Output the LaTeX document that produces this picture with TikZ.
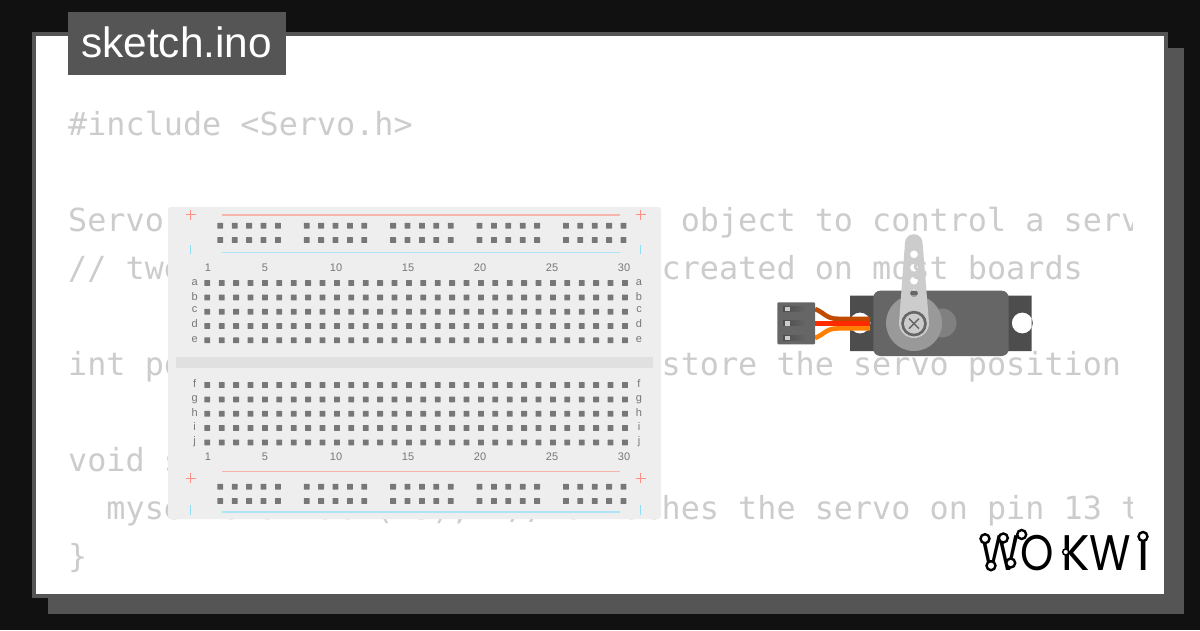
\documentclass[tikz,border=0pt]{standalone}
\usepackage{fontspec}
\setmainfont{Liberation Sans}
\setmonofont{DejaVu Sans Mono}
\newfontfamily\logofont{Poppins}
\definecolor{pageDark}{HTML}{111111}
\definecolor{frameGrey}{HTML}{555555}
\definecolor{codeGrey}{HTML}{CCCCCC}
\definecolor{boardGrey}{HTML}{EEEEEE}
\definecolor{gapGrey}{HTML}{E0E0E0}
\definecolor{holeGrey}{HTML}{777777}
\definecolor{labelGrey}{HTML}{777777}
\definecolor{railRed}{HTML}{F5B5AD}
\definecolor{railBlue}{HTML}{ADE5F7}
\definecolor{signRed}{HTML}{FF8F85}
\definecolor{signBlue}{HTML}{8FDDF5}
\definecolor{bracketGrey}{HTML}{4D4D4D}
\definecolor{bodyGrey}{HTML}{666666}
\definecolor{lumpGrey}{HTML}{808080}
\definecolor{gearGrey}{HTML}{999999}
\definecolor{hornGrey}{HTML}{CCCCCC}
\definecolor{wireBrown}{HTML}{BF4A00}
\definecolor{wireRed}{HTML}{FF2A00}
\definecolor{wireOrange}{HTML}{FF8000}
\tikzset{
  codeline/.style={anchor=base west,inner sep=0pt,text=codeGrey,font=\ttfamily\fontsize{31.8}{32}\selectfont},
  numlabel/.style={anchor=base,inner sep=0pt,text=labelGrey,font=\fontsize{11}{11}\selectfont},
  rowlabel/.style={anchor=base,inner sep=0pt,text=labelGrey,font=\fontsize{11}{11}\selectfont},
  pinhole/.style={fill=holeGrey,minimum size=5.8pt,inner sep=0pt,shape=rectangle,rounded corners=0.4pt},
  logoring/.style={draw=black,fill=white,line width=2.4pt,shape=circle,inner sep=0pt,minimum size=9pt}
}
\begin{document}
\begin{tikzpicture}[x=1pt,y=-1pt]
  \useasboundingbox (0,0) rectangle (1200,630);
  \fill[pageDark] (0,0) rectangle (1200,630);
  \fill[frameGrey] (48,48) rectangle (1184,614);
  \fill[frameGrey] (32,32) rectangle (1168,598);
  \fill[white] (36,36) rectangle (1164,594);
  \fill[frameGrey] (68,12) rectangle (286,75);
  \node[anchor=base west,inner sep=0pt,text=white,font=\fontsize{42.4}{42.4}\selectfont] (sketchTitle) at (81,57) {sketch.ino};

  \begin{scope}
    \clip (60,90) rectangle (1132,590);
    \node[codeline] (codeInclude) at (68,135) {\#include <Servo.h>};
    \node[codeline] (codeServo) at (68,231) {Servo myservo;~~// create servo object to control a serv};
    \node[codeline] (codeTwelve) at (68,279) {// twelve servo objects can be created on most boards};
    \node[codeline] (codePos) at (68,375) {int pos = 0;~~~~// variable to store the servo position};
    \node[codeline] (codeSetup) at (68,471) {void setup() \{};
    \node[codeline] (codeAttach) at (68,519) {~~myservo.attach(13);~~// attaches the servo on pin 13 t};
    \node[codeline] (codeClose) at (68,567) {\}};
  \end{scope}

  \fill[boardGrey,rounded corners=3pt] (168,207) rectangle (661,519);
  \fill[gapGrey] (176,357) rectangle (653,368);
  \foreach \railY in {225.7,240,486.7,501}
    \foreach \groupX in {220.3,306.7,393.1,479.5,565.9}
      \foreach \holeN in {0,...,4}
        \node[pinhole] at (\groupX+14.4*\holeN,\railY) {};
  \foreach \rowY in {283,297.4,311.7,326,340.3,385,399.4,413.7,428,442.4}
    \foreach \holeN in {0,...,29}
      \node[pinhole] at (207.3+14.4*\holeN,\rowY) {};
  \draw[railRed,line width=1.3pt] (222,215) -- (619.5,215);
  \draw[railBlue,line width=1.3pt] (222,252.3) -- (619.5,252.3);
  \draw[railRed,line width=1.3pt] (222,471.5) -- (619.5,471.5);
  \draw[railBlue,line width=1.3pt] (222,512) -- (619.5,512);
  \foreach \signX in {190.5,640.7} {
    \foreach \signY in {214.7,478.3}
      \draw[signRed,line width=0.8pt] (\signX-5,\signY) -- (\signX+5,\signY) (\signX,\signY-5) -- (\signX,\signY+5);
    \foreach \signY in {249.5,510}
      \draw[signBlue,line width=1pt] (\signX,\signY-4.8) -- (\signX,\signY+4.8);
  }
  \foreach \numX/\numT in {208/1,265/5,336/10,408/15,480/20,552/25,624/30} {
    \node[numlabel] at (\numX,271.5) {\numT};
    \node[numlabel] at (\numX,460.5) {\numT};
  }
  \foreach \rowX in {194.7,639} {
    \node[rowlabel] at (\rowX,285.5) {a};
    \node[rowlabel] at (\rowX,300) {b};
    \node[rowlabel] at (\rowX,312.5) {c};
    \node[rowlabel] at (\rowX,327.5) {d};
    \node[rowlabel] at (\rowX,342) {e};
    \node[rowlabel] at (\rowX,387) {f};
    \node[rowlabel] at (\rowX,401.5) {g};
    \node[rowlabel] at (\rowX,416.5) {h};
    \node[rowlabel] at (\rowX,430) {i};
    \node[rowlabel] at (\rowX,444.5) {j};
  }

  \fill[bracketGrey,even odd rule] (850,295.7) rectangle (1031.7,351) (860,323) circle[radius=10.5] (1022.3,323) circle[radius=10.5];
  \fill[bodyGrey,rounded corners=7pt] (873.3,290.7) rectangle (1008.7,356);
  \fill[lumpGrey] (942,323) circle[radius=14.5];
  \fill[gearGrey] (914,323) circle[radius=28];
  \fill[hornGrey,even odd rule] (905,243) arc[start angle=180,end angle=360,radius=8.8] -- (929,323) arc[start angle=0,end angle=180,radius=15] -- cycle
    (914,254.3) circle[radius=4] (914,267.7) circle[radius=4] (914,280.7) circle[radius=4] (914,293.3) circle[radius=4];
  \fill[bodyGrey] (914,323.6) circle[radius=12.8];
  \fill[hornGrey] (914,323.6) circle[radius=10];
  \draw[bodyGrey,line width=1.5pt] (909,318.6) -- (919,328.6) (919,318.6) -- (909,328.6);

  \draw[wireBrown,line width=4.6pt] (815,309) .. controls (825,313) and (826,318.8) .. (838,318.8) -- (870,318.8);
  \draw[wireOrange,line width=4.6pt] (815,338) .. controls (825,334) and (826,328.4) .. (838,328.4) -- (870,328.4);
  \draw[wireRed,line width=4.6pt] (815,323.5) -- (870,323.5);
  \fill[bodyGrey,rounded corners=1pt] (777.3,302.3) rectangle (815,344.3);
  \foreach \pinY in {309,323.3,337.7} {
    \shade[left color=bracketGrey,right color=bodyGrey] (783,\pinY-2.5) rectangle (806,\pinY+2.5);
    \fill[hornGrey] (785,\pinY-2.2) rectangle (789.5,\pinY+2.2);
  }

  \node[anchor=base west,inner sep=0pt,text=black,font=\logofont\fontsize{50}{50}\selectfont] (wokwiLogo) at (980,570) {\scalebox{.8}[1]{W}\kern1pt\scalebox{.85}[1]{O}\kern8pt\scalebox{.95}[1]{K}\kern-1pt\scalebox{.85}[1]{W}\kern7pt I};
  \node[logoring] (ringA) at (985,538.7) {};
  \node[logoring] (ringB) at (1003.3,538) {};
  \node[logoring] (ringC) at (1021.7,534.5) {};
  \node[logoring] (ringD) at (991,565.7) {};
  \node[logoring] (ringE) at (1010.7,563) {};
  \node[logoring,minimum size=6pt,line width=1.5pt] (ringK) at (1065.7,552) {};
  \node[logoring] (ringI) at (1143,536.5) {};
\end{tikzpicture}
\end{document}
